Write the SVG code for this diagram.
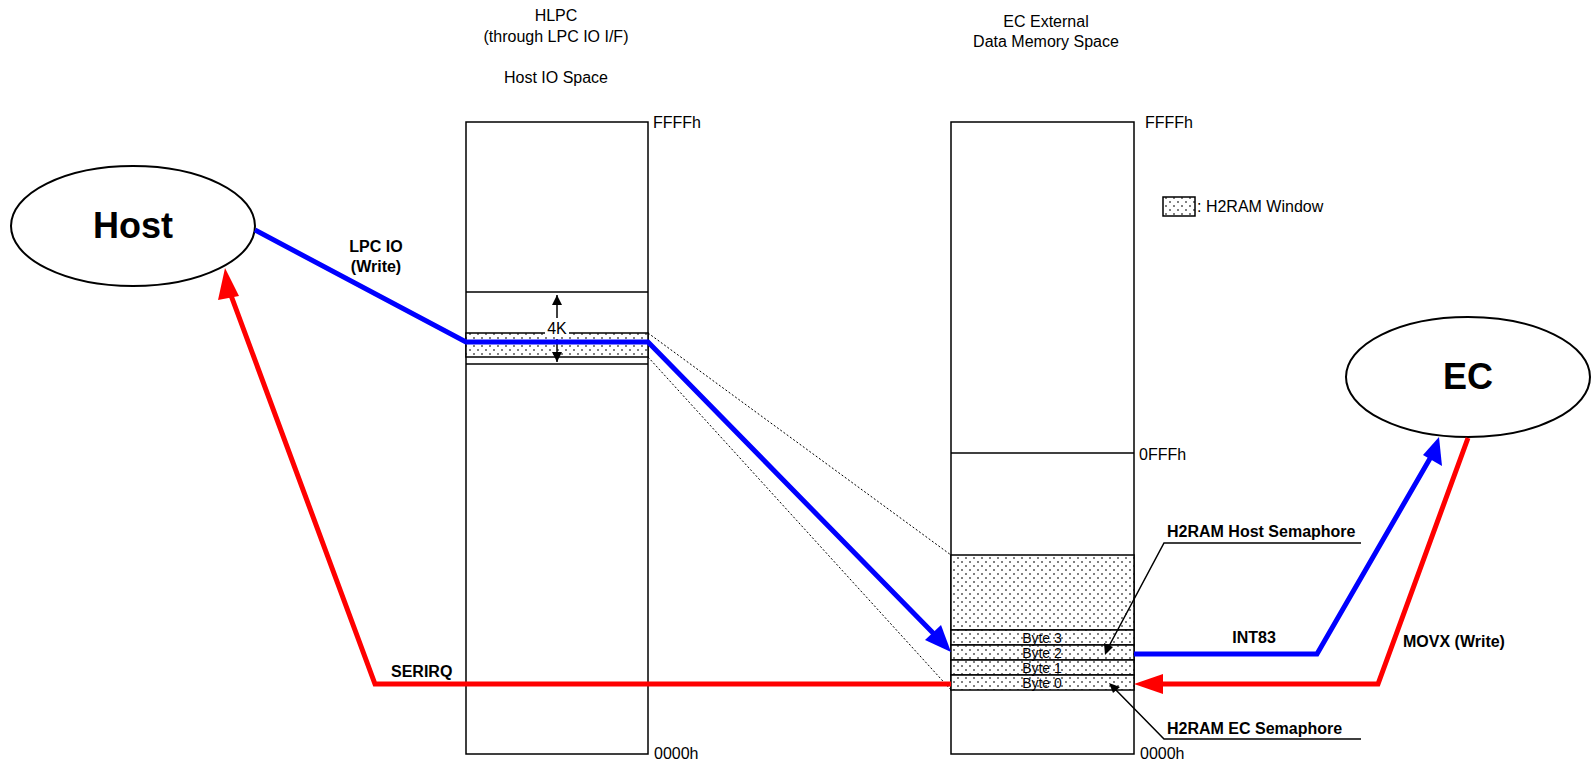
<svg xmlns="http://www.w3.org/2000/svg" width="1596" height="769" viewBox="0 0 1596 769">
<style>
text{font-family:"Liberation Sans Narrow","Liberation Sans",Arial,sans-serif;fill:#000}
.t{font-size:16px}
.b{font-size:16px;font-weight:bold}
.big{font-size:36px;font-weight:bold}
.sm{font-size:14px}
.box{fill:#fff;stroke:#000;stroke-width:1.5}
.ln{stroke:#000;stroke-width:1.5;fill:none}
.dot{fill:url(#dots);stroke:#000;stroke-width:1.5}
.blue{stroke:#0000ff;stroke-width:5;fill:none}
.red{stroke:#ff0000;stroke-width:5;fill:none}
.dash{stroke:#000;stroke-width:1;stroke-dasharray:2,2;fill:none}
</style>
<defs>
<pattern id="dots" width="8" height="8" patternUnits="userSpaceOnUse">
<rect width="8" height="8" fill="#fff"/>
<circle cx="2" cy="2" r="1" fill="#555"/>
<circle cx="6" cy="6" r="1" fill="#555"/>
</pattern>
<marker id="ab" markerWidth="10" markerHeight="10" refX="10" refY="5" orient="auto" markerUnits="userSpaceOnUse"><path d="M0,0 L10,5 L0,10z" fill="#000"/></marker>
</defs>
<g id="titles">
<text class="t" x="556" y="21" text-anchor="middle">HLPC</text>
<text class="t" x="556" y="42" text-anchor="middle">(through LPC IO I/F)</text>
<text class="t" x="556" y="83" text-anchor="middle">Host IO Space</text>
<text class="t" x="1046" y="27" text-anchor="middle">EC External</text>
<text class="t" x="1046" y="47" text-anchor="middle">Data Memory Space</text>
</g>
<g id="host-io-space">
<rect class="box" x="466" y="122" width="182" height="632"/>
<line class="ln" x1="466" y1="292" x2="648" y2="292"/>
<rect class="dot" x="466" y="333" width="182" height="24"/>
<line class="ln" x1="466" y1="364" x2="648" y2="364"/>
<text class="t" x="653" y="128">FFFFh</text>
<text class="t" x="654" y="759">0000h</text>
<line class="ln" x1="557" y1="318" x2="557" y2="295" marker-end="url(#ab)"/>
<line class="ln" x1="557" y1="339" x2="557" y2="362" marker-end="url(#ab)"/>
<rect x="545" y="320" width="24" height="16" fill="#fff"/>
<text class="t" x="557" y="334" text-anchor="middle">4K</text>
</g>
<g id="ec-space">
<rect class="box" x="951" y="122" width="183" height="632"/>
<line class="ln" x1="951" y1="453" x2="1134" y2="453"/>
<rect class="dot" x="951" y="555" width="183" height="75"/>
<rect class="dot" x="951" y="630" width="183" height="15"/>
<rect class="dot" x="951" y="645" width="183" height="15"/>
<rect class="dot" x="951" y="660" width="183" height="15"/>
<rect class="dot" x="951" y="675" width="183" height="15"/>
<text class="sm" x="1042" y="643" text-anchor="middle">Byte 3</text>
<text class="sm" x="1042" y="658" text-anchor="middle">Byte 2</text>
<text class="sm" x="1042" y="673" text-anchor="middle">Byte 1</text>
<text class="sm" x="1042" y="688" text-anchor="middle">Byte 0</text>
<text class="t" x="1145" y="128">FFFFh</text>
<text class="t" x="1139" y="460">0FFFh</text>
<text class="t" x="1140" y="759">0000h</text>
</g>
<g id="legend">
<rect class="dot" x="1163" y="197" width="32" height="19"/>
<text class="t" x="1197" y="212">: H2RAM Window</text>
</g>
<g id="host">
<ellipse cx="133" cy="226" rx="122" ry="60" fill="#fff" stroke="#000" stroke-width="2"/>
<text class="big" x="133" y="238" text-anchor="middle">Host</text>
</g>
<g id="ec">
<ellipse cx="1468" cy="377" rx="122" ry="60" fill="#fff" stroke="#000" stroke-width="2"/>
<text class="big" x="1468" y="389" text-anchor="middle">EC</text>
</g>
<g id="connectors">
<line class="dash" x1="648" y1="333" x2="951" y2="555"/>
<line class="dash" x1="648" y1="357" x2="951" y2="690"/>
<polyline class="blue" points="255,230 466,342 648,342 935,635"/>
<polygon fill="#0000ff" points="951,652 925,640 941,625"/>
<polyline class="blue" points="1134,654 1317,654 1432,455"/>
<polygon fill="#0000ff" points="1439,437 1442,466 1423,455"/>
<polyline class="red" points="951,684 375,684 229,290"/>
<polygon fill="#ff0000" points="225,268 239,296 218,300"/>
<polyline class="red" points="1160,684 1378,684 1468,438"/>
<polygon fill="#ff0000" points="1134,684 1163,674 1163,694"/>
<polyline class="ln" points="1361,543 1164,543 1108,648"/>
<polygon fill="#000" points="1105,655 1104,643 1113,647"/>
<polyline class="ln" points="1361,739 1164,739 1114,688"/>
<polygon fill="#000" points="1109,683 1120,687 1113,693"/>
<text class="b" x="376" y="252" text-anchor="middle">LPC IO</text>
<text class="b" x="376" y="272" text-anchor="middle">(Write)</text>
<text class="b" x="391" y="677">SERIRQ</text>
<text class="b" x="1254" y="643" text-anchor="middle">INT83</text>
<text class="b" x="1403" y="647">MOVX (Write)</text>
<text class="b" x="1167" y="537">H2RAM Host Semaphore</text>
<text class="b" x="1167" y="734">H2RAM EC Semaphore</text>
</g>
</svg>
